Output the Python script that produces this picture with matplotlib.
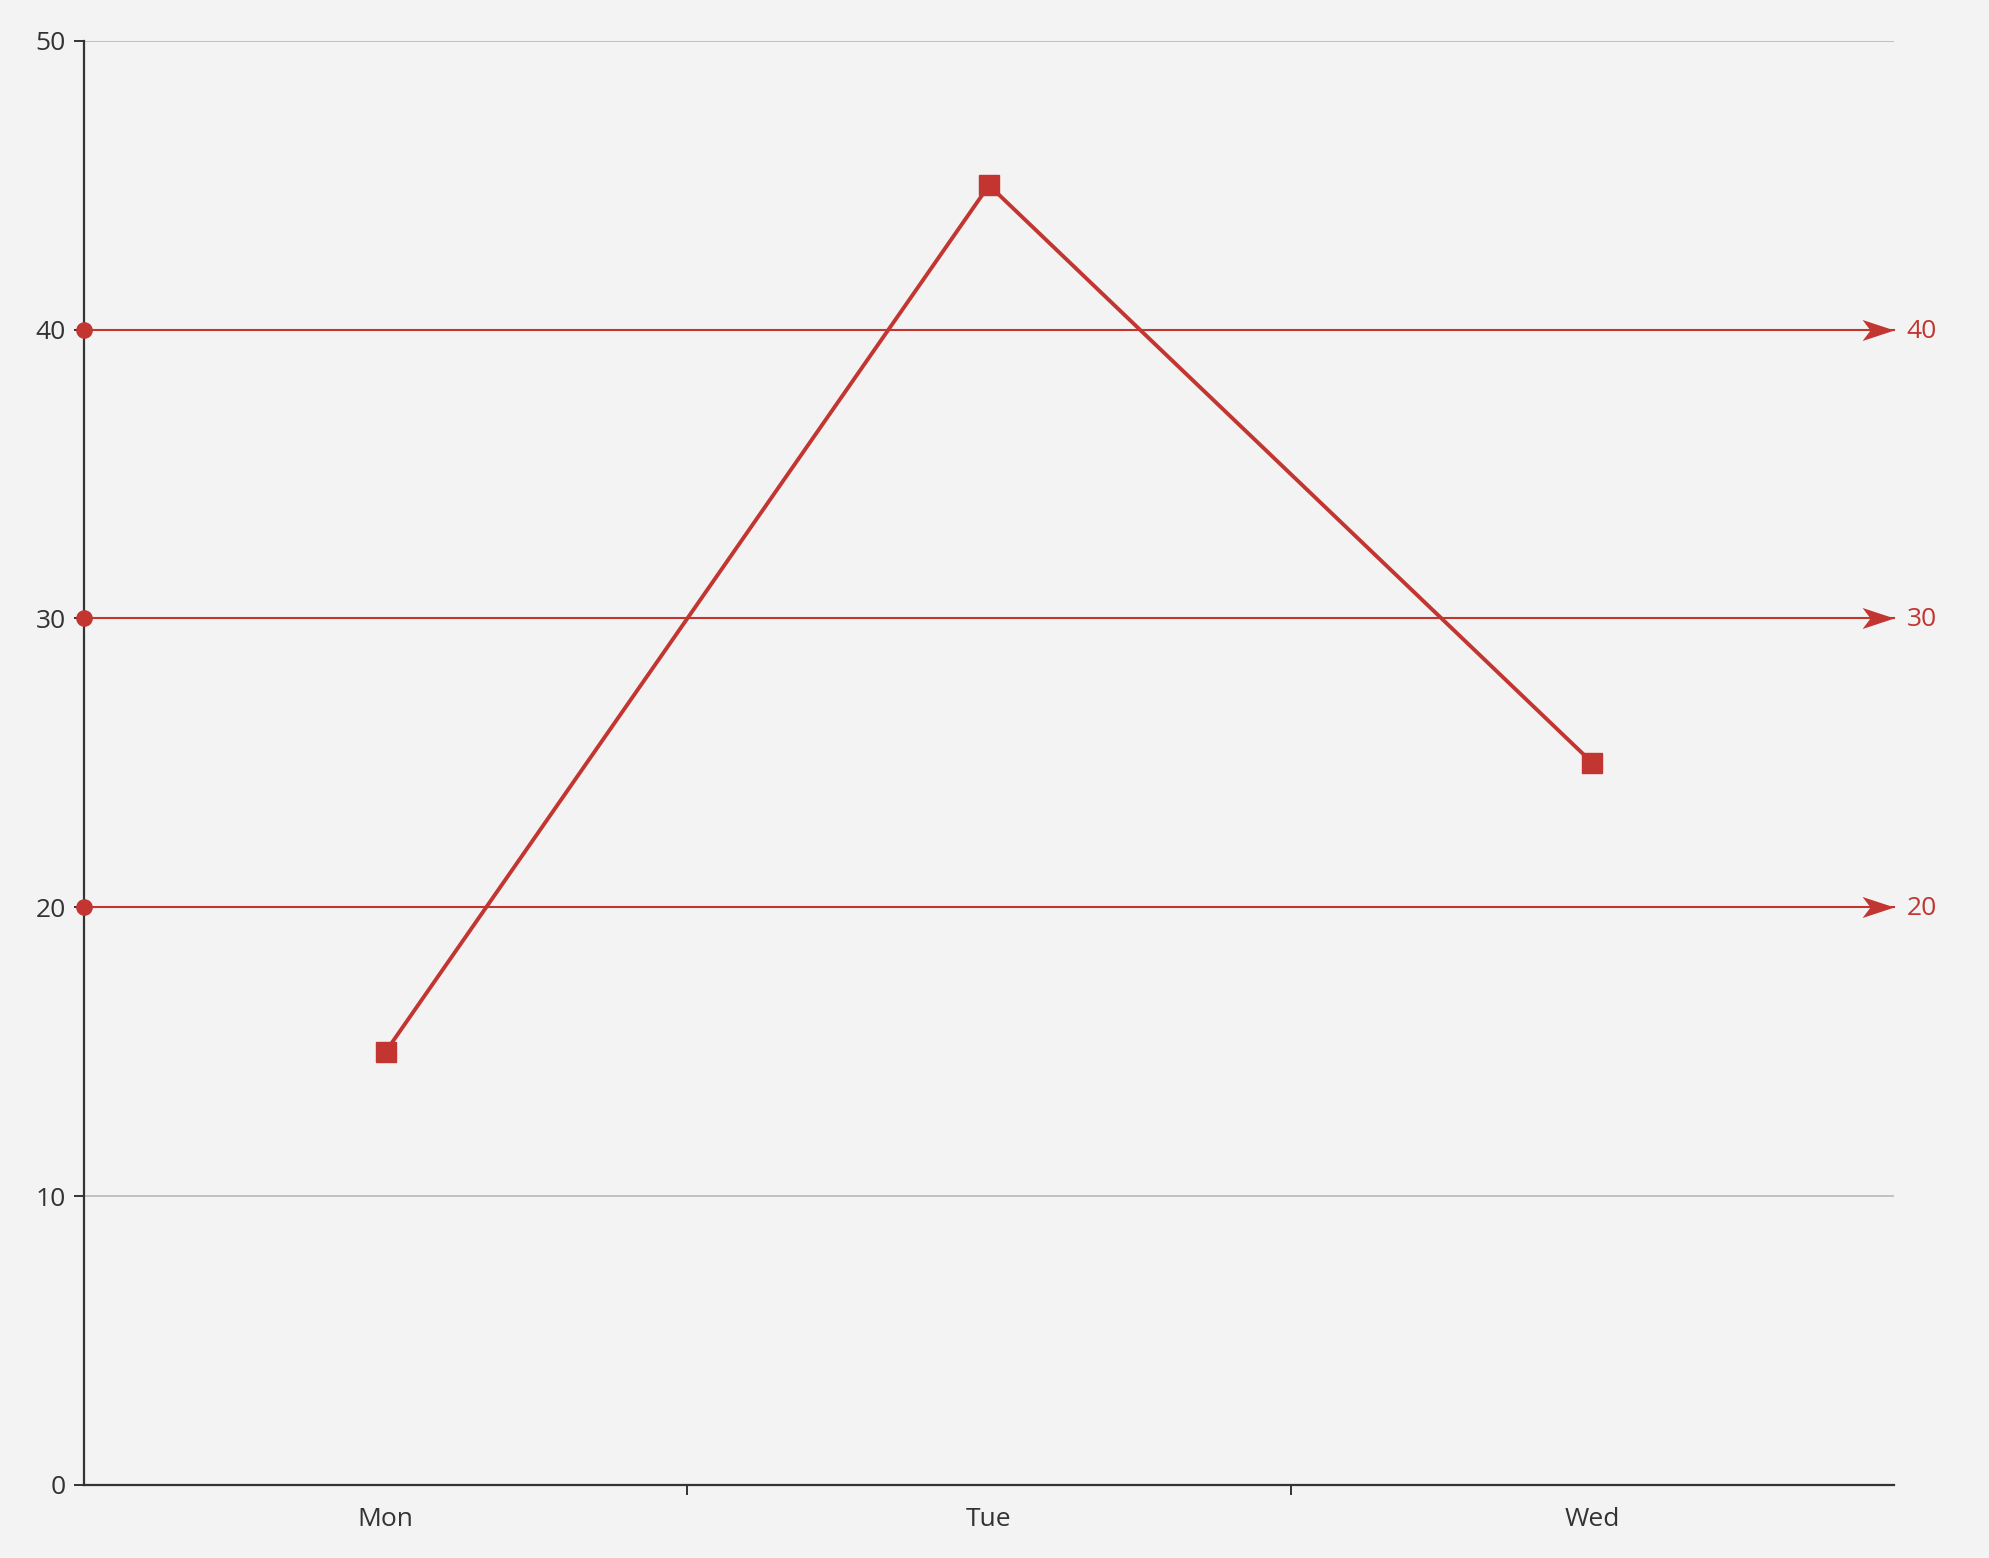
import matplotlib.pyplot as plt
from matplotlib.path import Path
import numpy as np

days = ["Mon", "Tue", "Wed"]
values = [15, 45, 25]
mark_values = [20, 30, 40]
y_ticks = [0, 10, 20, 30, 40, 50]

red = "#c23531"
bg = "#f3f3f3"
text_col = "#333333"

plt.rcParams["font.family"] = ["Open Sans", "DejaVu Sans"]

fig = plt.figure(figsize=(19.89, 15.58), dpi=100, facecolor=bg)
ax = fig.add_axes([0.0422, 0.0469, 0.9101, 0.9269])
ax.set_facecolor(bg)

x = np.arange(len(days))
ax.set_xlim(-0.5, len(days) - 0.5)
ax.set_ylim(0, 50)

# grid lines
for v in y_ticks[1:]:
    ax.axhline(v, color="#bcbcbc", lw=1.3, zorder=1)

# arrow marker path (tip at origin)
arrow = Path(
    [(0, 0), (-1, 0.33), (-0.75, 0), (-1, -0.33), (0, 0)],
    [Path.MOVETO, Path.LINETO, Path.LINETO, Path.LINETO, Path.CLOSEPOLY],
)

x0, x1 = ax.get_xlim()
for v in mark_values:
    ax.plot([x0, x1], [v, v], color=red, lw=1.5, zorder=3, clip_on=False)
    ax.plot([x0], [v], marker="o", ms=11, color=red, zorder=4, clip_on=False)
    ax.plot([x1], [v], marker=arrow, ms=46, color=red, mew=0, zorder=4, clip_on=False)
    ax.annotate(str(v), xy=(x1, v), xytext=(9, -1), textcoords="offset points",
                ha="left", va="center", fontsize=19, color=red, annotation_clip=False)

ax.plot(x, values, color=red, lw=2.8, marker="s", ms=14, zorder=5)

# axes styling
for s in ["top", "right"]:
    ax.spines[s].set_visible(False)
for s in ["left", "bottom"]:
    ax.spines[s].set_color(text_col)
    ax.spines[s].set_linewidth(1.6)

ax.set_yticks(y_ticks)
ax.tick_params(axis="y", length=7, width=1.4, color=text_col, labelsize=19,
               labelcolor=text_col, pad=6)
ax.set_xticks(x)
ax.set_xticklabels(days)
ax.tick_params(axis="x", which="major", length=0, labelsize=19, labelcolor=text_col, pad=16)
ax.set_xticks(np.arange(0.5, len(days) - 1), minor=True)
ax.tick_params(axis="x", which="minor", length=7, width=1.4, color=text_col)

fig.savefig("out.png", dpi=100, facecolor=bg)
